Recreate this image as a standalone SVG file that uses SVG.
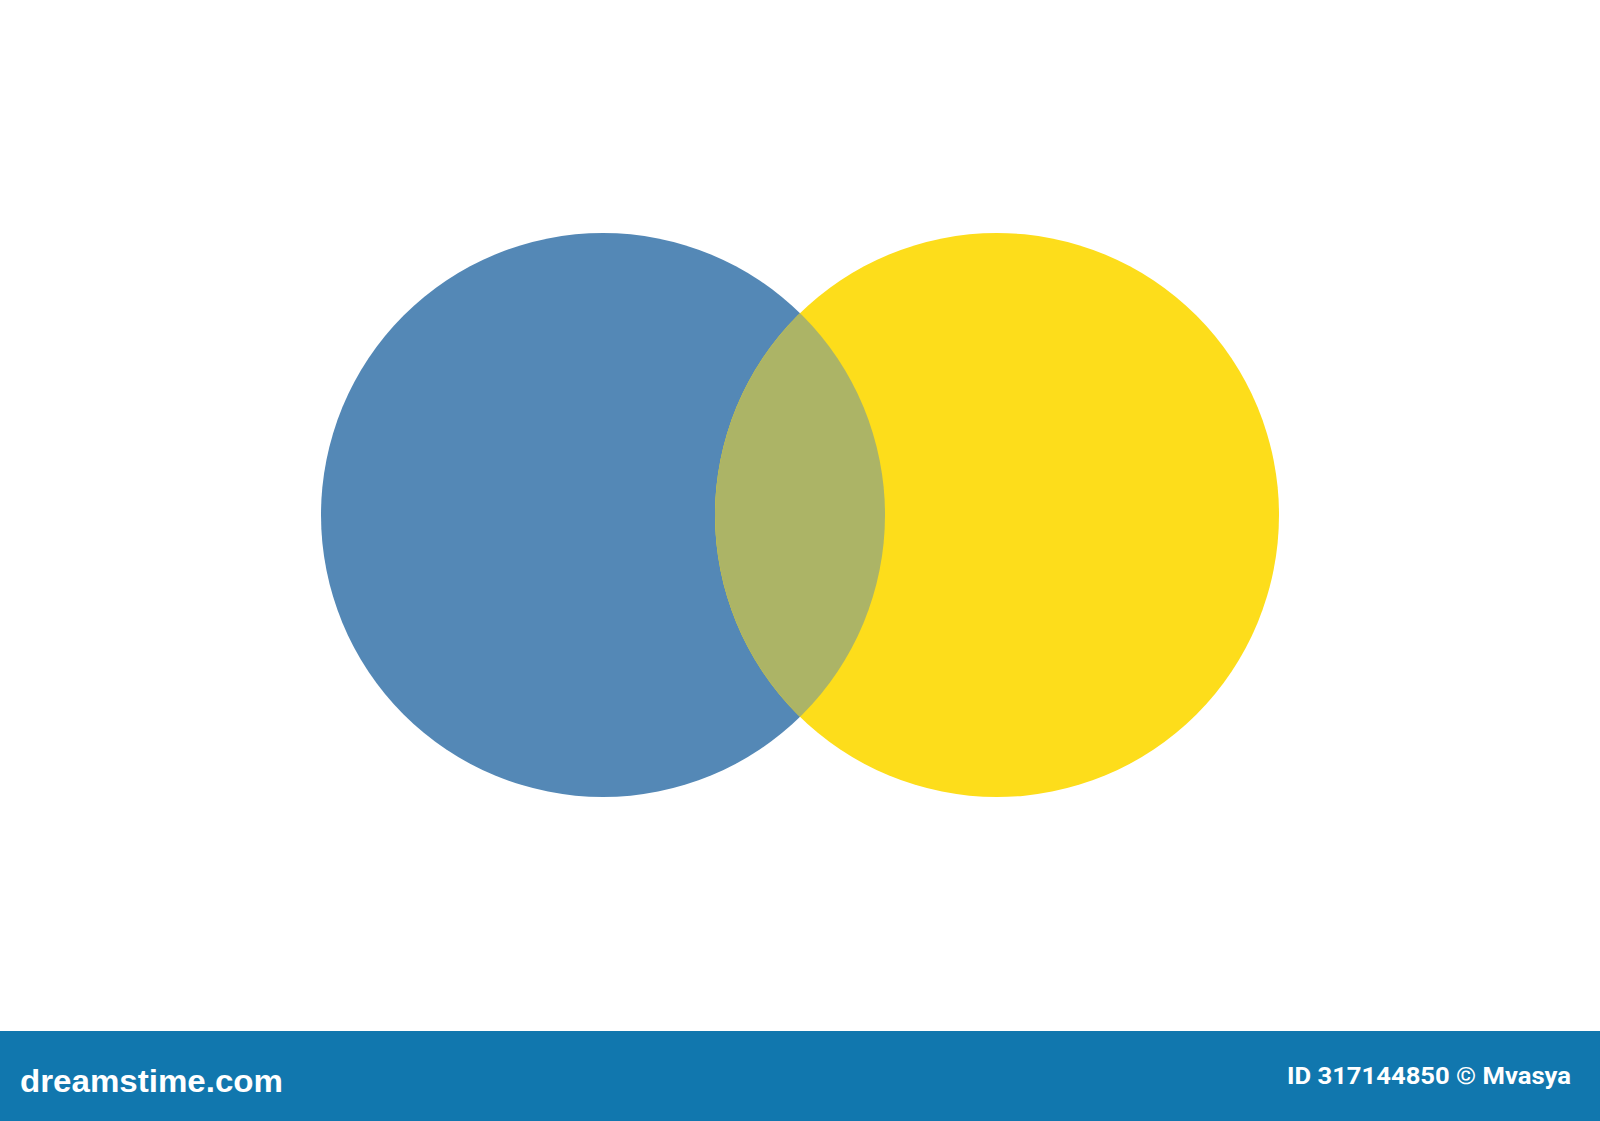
<svg xmlns="http://www.w3.org/2000/svg" width="1600" height="1121" viewBox="0 0 1600 1121">
<style>
.bar{fill:#1177ae}
.bt{fill:#ffffff;font-family:"Liberation Sans",Arial,sans-serif;font-weight:bold}
</style>
<defs>
<clipPath id="clipBlue"><circle cx="603" cy="515" r="282"/></clipPath>
</defs>
<rect x="0" y="0" width="1600" height="1121" fill="#ffffff"/>
<g id="set-blue"><circle cx="603" cy="515" r="282" fill="#5488b6"/></g>
<g id="set-yellow"><circle cx="997" cy="515" r="282" fill="#fddd1b"/></g>
<g id="intersection"><circle cx="997" cy="515" r="282" fill="#acb466" clip-path="url(#clipBlue)"/></g>
<g id="footer">
<rect class="bar" x="0" y="1031" width="1600" height="90"/>
<text class="bt" x="20" y="1092" font-size="31" textLength="263" lengthAdjust="spacingAndGlyphs" font-family="Inter,sans-serif">dreamstime.com</text>
<text class="bt" x="1287" y="1084" font-size="23" textLength="284" lengthAdjust="spacingAndGlyphs" style="font-family:Roboto,'Liberation Sans',sans-serif">ID 317144850 © Mvasya</text>
</g>
</svg>
